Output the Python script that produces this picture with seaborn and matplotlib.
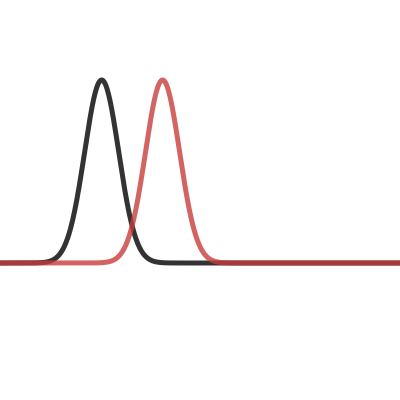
import numpy as np
import pandas as pd
import matplotlib
matplotlib.use('Agg')
import matplotlib.pyplot as plt
import seaborn as sns

# two normal curves, parameters
names = ['a', 'b']
means = [0.0, 1.0]
sds = [0.28, 0.28]
colors = ['black', '#C93D3B']
x_range = [-1.67, 4.9]

xs = np.linspace(x_range[0], x_range[1], 800)
rows = []
for name, m, s in zip(names, means, sds):
    pdf = np.exp(-0.5 * ((xs - m) / s) ** 2) / (s * np.sqrt(2 * np.pi))
    rows.append(pd.DataFrame({'x': xs, 'y': pdf, 'dist': name}))
df = pd.concat(rows, ignore_index=True)

sns.set_style('white')
fig = plt.figure(figsize=(4, 4), dpi=100)
ax = fig.add_axes([0, 0, 1, 1])

sns.lineplot(data=df, x='x', y='y', hue='dist', palette=colors,
             linewidth=3.6, alpha=0.8, legend=False, ax=ax)

peak = df['y'].max()
span = peak / 0.4575
bottom = -0.3425 * span
ax.set_xlim(x_range)
ax.set_ylim(bottom, bottom + span)
ax.axis('off')

plt.savefig('out.png', dpi=100)
plt.close()
